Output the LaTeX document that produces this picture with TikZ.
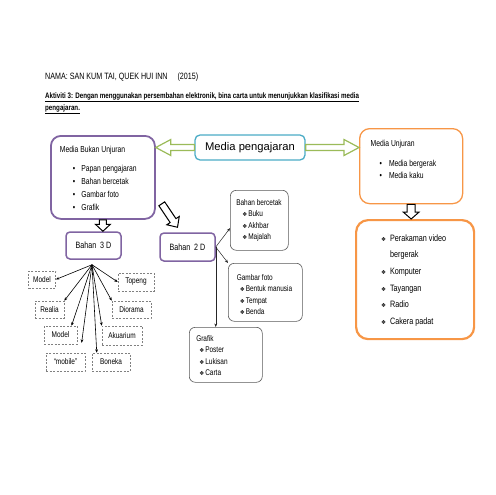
\documentclass[tikz,border=0pt]{standalone}
\usepackage{fontspec}
\setmainfont{Liberation Sans}[FakeStretch=0.78]
\newfontfamily\titlefont{Liberation Sans}
\newfontfamily\symfont{DejaVu Sans}
\usepackage{tikz}
\usetikzlibrary{arrows.meta, calc}
\definecolor{boxpurple}{RGB}{128,100,162}
\definecolor{boxteal}{RGB}{75,172,198}
\definecolor{boxorange}{RGB}{247,150,70}
\definecolor{arrowgreen}{RGB}{155,187,89}
\newcommand{\dia}{{\symfont\fontsize{5.6}{5.6}\selectfont ❖}}
% hollow block arrow: [style]{from}{to}{half shaft}{half head}{head length}
\newcommand{\blockarrow}[6][]{%
  \coordinate (bas) at (#2);
  \coordinate (bae) at (#3);
  \coordinate (ban) at ($(bae)!#6!(bas)$);
  \draw[#1] ($(bas)!#4!90:(bae)$) -- ($(ban)!#4!90:(bae)$) -- ($(ban)!#5!90:(bae)$)
    -- (bae) -- ($(ban)!#5!-90:(bae)$) -- ($(ban)!#4!-90:(bae)$)
    -- ($(bas)!#4!-90:(bae)$) -- cycle;
}

\begin{document}
\begin{tikzpicture}[
  x=1pt, y=-1pt,
  bigpurple/.style={draw=boxpurple, line width=1.8pt, rounded corners=10pt, fill=white,
                    font=\fontsize{8.7}{12.7}\selectfont},
  smallpurple/.style={draw=boxpurple, line width=1.5pt, rounded corners=4pt, fill=white,
                      font=\fontsize{9.15}{10}\selectfont},
  tealbox/.style={draw=boxteal, line width=1.3pt, rounded corners=5pt, fill=white,
                  font=\titlefont\fontsize{11.2}{13}\selectfont},
  orangebox/.style={draw=boxorange, line width=1.3pt, rounded corners=10pt, fill=white,
                    font=\fontsize{8.7}{12}\selectfont},
  thickorange/.style={draw=boxorange, line width=2.2pt, rounded corners=12pt, fill=white,
                      font=\fontsize{9.25}{16.6}\selectfont},
  graybox/.style={draw=black!65, line width=0.6pt, rounded corners=6pt, fill=white,
                  font=\fontsize{8.3}{11.3}\selectfont},
  dbox/.style={draw=black!50, dash pattern=on 2pt off 1.5pt, line width=0.5pt,
               inner sep=0pt, font=\fontsize{8.3}{9}\selectfont},
  fanarrow/.style={-{Stealth[length=3.5pt, width=2.8pt]}, line width=0.6pt},
  thinarrow/.style={-{Stealth[length=3.5pt, width=2.8pt]}, line width=0.5pt, black!85},
  greenarrow/.style={draw=arrowgreen, line width=1.2pt, fill=white},
  blackarrow/.style={draw=black, line width=1pt, fill=white},
]
\useasboundingbox (0,0) rectangle (495,495);

\node[anchor=base west, inner sep=0pt, font=\fontsize{9.15}{10}\selectfont] (nama) at (45,80)
  {NAMA: SAN KUM TAI, QUEK HUI INN\hspace{10pt}(2015)};
\node[anchor=base west, inner sep=0pt, font=\bfseries\fontsize{7.95}{10}\selectfont] (aktiviti) at (45,98.5)
  {\underline{Aktiviti 3: Dengan menggunakan persembahan elektronik, bina carta untuk menunjukkan klasifikasi media}};
\node[anchor=base west, inner sep=0pt, font=\bfseries\fontsize{7.95}{10}\selectfont] (aktiviti2) at (45,110.5)
  {\underline{pengajaran.}};

\node[tealbox, minimum width=110pt, minimum height=25pt] (mp) at (250,147.5) {Media pengajaran};

\node[bigpurple, anchor=north west, inner xsep=9pt, inner ysep=10.7pt] (mbu) at (50,135)
  {\parbox[t][61.6pt][t]{86pt}{Media Bukan Unjuran\\[6.3pt]
   \hspace*{13pt}\textbullet\hspace{6pt}Papan pengajaran\\
   \hspace*{13pt}\textbullet\hspace{6pt}Bahan bercetak\\
   \hspace*{13pt}\textbullet\hspace{6pt}Gambar foto\\
   \hspace*{13pt}\textbullet\hspace{6pt}Grafik}};

\node[orangebox, anchor=north west, inner xsep=11pt, inner ysep=11.7pt] (mu) at (359,128)
  {\parbox[t][51.6pt][t]{81pt}{Media Unjuran\\[8pt]
   \hspace*{9pt}\textbullet\hspace{7pt}Media bergerak\\
   \hspace*{9pt}\textbullet\hspace{7pt}Media kaku}};

\node[thickorange, anchor=north west, inner xsep=25pt, inner ysep=14.4pt] (mul) at (355,219)
  {\parbox[t][90.2pt][t]{68pt}{\makebox[9pt][l]{\dia}Perakaman video\\
   \hspace*{9pt}bergerak\\
   \makebox[9pt][l]{\dia}Komputer\\
   \makebox[9pt][l]{\dia}Tayangan\\
   \makebox[9pt][l]{\dia}Radio\\
   \makebox[9pt][l]{\dia}Cakera padat}};

\node[smallpurple, minimum width=55pt, minimum height=27pt] (b3d) at (93.5,245.5) {Bahan\ \ 3 D};
\node[smallpurple, minimum width=55pt, minimum height=28pt] (b2d) at (187.5,247) {Bahan\ \ 2 D};

\node[graybox, anchor=north west, inner xsep=6pt, inner ysep=9.1pt] (bercetak) at (230,190)
  {\parbox[t][41.8pt][t]{46pt}{Bahan bercetak\\
   \hspace*{6pt}\makebox[6pt][l]{\dia}Buku\\
   \hspace*{6pt}\makebox[6pt][l]{\dia}Akhbar\\
   \hspace*{6pt}\makebox[6pt][l]{\dia}Majalah}};
\node[graybox, anchor=north west, inner xsep=8.5pt, inner ysep=11.1pt] (gambar) at (228,263)
  {\parbox[t][35.8pt][t]{57pt}{Gambar foto\\
   \hspace*{3pt}\makebox[6pt][l]{\dia}Bentuk manusia\\
   \hspace*{3pt}\makebox[6pt][l]{\dia}Tempat\\
   \hspace*{3pt}\makebox[6pt][l]{\dia}Benda}};
\node[graybox, anchor=north west, inner xsep=7pt, inner ysep=8.1pt] (grafik) at (189,327)
  {\parbox[t][38.8pt][t]{59pt}{Grafik\\
   \hspace*{3pt}\makebox[6pt][l]{\dia}Poster\\
   \hspace*{3pt}\makebox[6pt][l]{\dia}Lukisan\\
   \hspace*{3pt}\makebox[6pt][l]{\dia}Carta}};

\node[dbox, minimum width=27pt, minimum height=17pt] (model1) at (42,279.5) {Model};
\node[dbox, minimum width=36pt, minimum height=18pt] (topeng) at (136,282) {Topeng};
\node[dbox, minimum width=29pt, minimum height=17pt] (realia) at (49.5,309.5) {Realia};
\node[dbox, minimum width=39pt, minimum height=17pt] (diorama) at (131.5,309.5) {Diorama};
\node[dbox, minimum width=33pt, minimum height=18pt] (model2) at (60.5,335) {Model};
\node[dbox, minimum width=40pt, minimum height=19pt] (akuarium) at (122,335.5) {Akuarium};
\node[dbox, minimum width=39pt, minimum height=18pt] (mobile) at (65.5,362) {``mobile''};
\node[dbox, minimum width=38pt, minimum height=18pt] (boneka) at (111,362) {Boneka};

\blockarrow[greenarrow]{mp.west}{mp.west -| mbu.east}{3pt}{8pt}{15pt}
\blockarrow[greenarrow]{mp.east}{mp.east -| mu.west}{3pt}{8pt}{15pt}
\blockarrow[blackarrow]{mbu.south}{mbu.south |- b3d.north}{3.5pt}{7.5pt}{7pt}
\blockarrow[blackarrow]{$(mbu.south east)+(6,-16)$}{$(b2d.north)+(-10,-5)$}{3.5pt}{7.5pt}{8pt}
\blockarrow[blackarrow]{mu.south}{mu.south |- mul.north}{4pt}{8pt}{7pt}

\coordinate (fan) at ($(b3d.south)+(-1.5,5)$);
\draw[fanarrow] (fan) -- (model1.east);
\draw[fanarrow] (fan) -- (topeng.west);
\draw[fanarrow] (fan) -- (realia.north east);
\draw[fanarrow] (fan) -- (diorama.north west);
\draw[fanarrow] (fan) -- (model2.40);
\draw[fanarrow] (fan) -- (akuarium.north west);
\draw[fanarrow, shorten >=10pt] (fan) -- (mobile.32);
\draw[fanarrow] (fan) -- (boneka.147);

\draw[thinarrow] (b2d.east) -- (bercetak.195);
\draw[thinarrow] (b2d.east) -- (gambar.north west);
\draw[thinarrow] (b2d.east) -- (b2d.east |- grafik.north);
\end{tikzpicture}
\end{document}
